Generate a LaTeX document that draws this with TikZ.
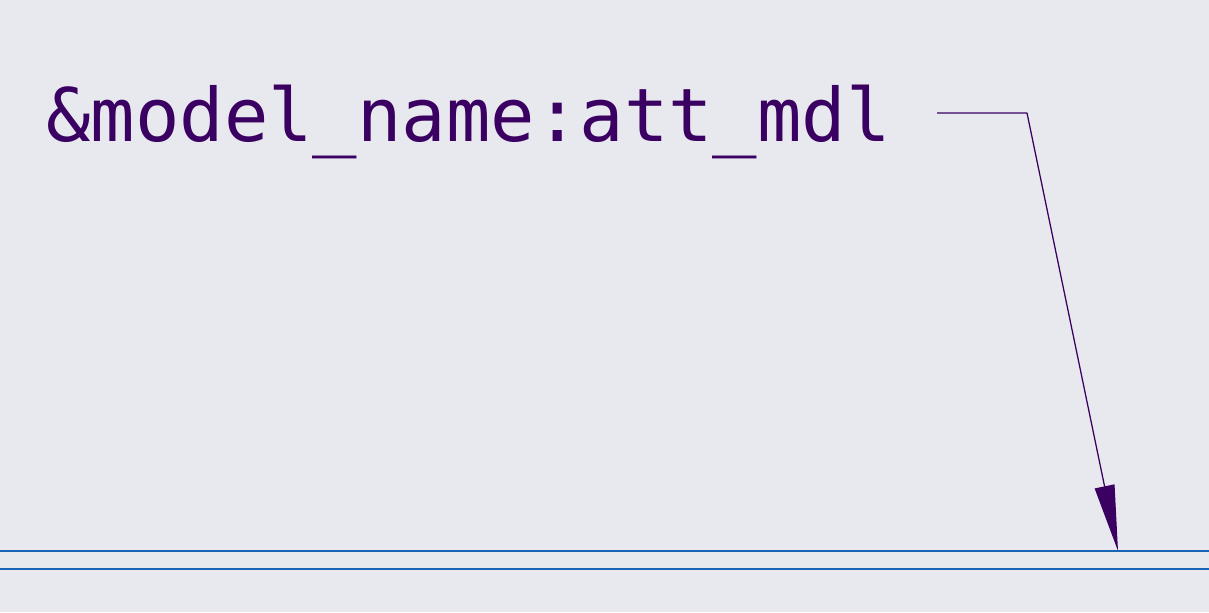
\documentclass[tikz,border=0pt]{standalone}
\usepackage{fontspec}
\usetikzlibrary{arrows.meta}
\newfontfamily\cadfont{DejaVu Sans Mono}
\definecolor{sheetbg}{HTML}{E8E9EE}
\definecolor{notepurple}{HTML}{3A0062}
\definecolor{edgeblue}{HTML}{1A64B4}
\tikzset{
  note/.style={font=\cadfont\fontsize{52.5pt}{60pt}\selectfont, text=notepurple, inner sep=0pt, anchor=base west},
  leader/.style={draw=notepurple, line width=0.9pt, line join=round},
  edge/.style={draw=edgeblue, line width=0.9pt}
}
\begin{document}
\begin{tikzpicture}[x=0.025cm,y=-0.025cm]
	\fill[sheetbg] (0,0) rectangle (1209,612);
	\useasboundingbox (0,0) rectangle (1209,612);
	% model name note
	\node[note] (name) at (46,141) {\&model\_name:att\_mdl};
	\coordinate (start) at (937,113);
	\coordinate (knee) at (1027,113);
	\coordinate (tip) at (1118,551);
	\draw[leader,-{Triangle[length=1.65cm,width=0.5cm,fill=notepurple]}] (start) -- (knee) -- (tip);
	% part edges
	\coordinate (e1l) at (0,551);
	\coordinate (e1r) at (1209,551);
	\coordinate (e2l) at (0,569);
	\coordinate (e2r) at (1209,569);
	\draw[edge] (e1l) -- (e1r);
	\draw[edge] (e2l) -- (e2r);
\end{tikzpicture}
\end{document}
